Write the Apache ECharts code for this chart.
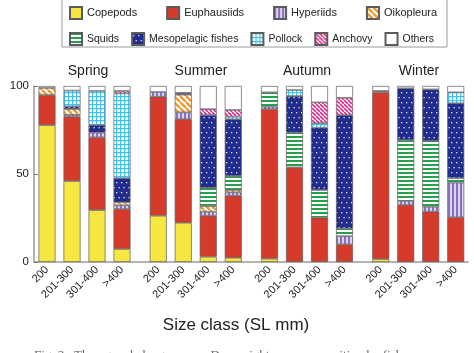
<!DOCTYPE html>
<html>
<head>
<meta charset="utf-8">
<script src="https://cdn.jsdelivr.net/npm/echarts@6/dist/echarts.min.js"></script>
<style>
  html, body { margin: 0; padding: 0; background: #fff; }
  #chart { width: 474px; height: 353px; }
</style>
</head>
<body>
<div id="chart"></div>
<script>
// ===== DATA =====
const seasons = ['Spring', 'Summer', 'Autumn', 'Winter'];
const sizeClasses = ['200', '201-300', '301-400', '>400'];
const preyNames = ['Copepods', 'Euphausiids', 'Hyperiids', 'Oikopleura', 'Squids',
  'Mesopelagic fishes', 'Pollock', 'Anchovy', 'Others'];

// DW% per bar, order: Spring x4, Summer x4, Autumn x4, Winter x4
const copepods    = [77.8, 46.0, 29.5,  7.4,  26.3, 22.3,  3.0,  2.4,   1.9,  0.0,  0.0,  0.0,   1.7,  0.0,  0.0,  0.0];
const euphausiids = [17.1, 36.6, 41.3, 22.7,  67.6, 58.8, 23.3, 35.3,  85.0, 53.8, 25.2, 10.0,  94.7, 32.4, 28.6, 25.4];
const hyperiids   = [ 0.0,  1.0,  2.7,  2.1,   2.7,  3.9,  2.3,  1.9,   1.4,  0.0,  0.0,  4.7,   0.8,  2.3,  2.8, 19.7];
const oikopleura  = [ 4.0,  3.3,  0.0,  1.7,   0.0, 10.1,  3.2,  1.3,   0.0,  0.0,  0.0,  0.0,   0.0,  0.0,  0.0,  0.0];
const squids      = [ 0.0,  0.0,  0.0,  0.0,   0.0,  0.0, 10.4,  8.0,   8.1, 19.7, 15.7,  4.3,   0.0, 34.6, 37.5,  2.5];
const mesopelagic = [ 0.0,  1.5,  4.3, 13.7,   0.0,  1.0, 41.3, 32.2,   0.0, 20.8, 35.4, 64.4,   0.0, 29.4, 29.2, 42.6];
const pollock     = [ 0.0,  9.0, 19.4, 48.2,   0.0,  0.0,  0.0,  1.5,   0.0,  3.4,  2.5,  0.0,   0.0,  0.0,  0.0,  6.2];
const anchovy     = [ 0.0,  0.0,  0.0,  1.4,   0.0,  0.0,  3.4,  3.8,   0.0,  0.0, 11.9,  9.9,   0.0,  0.0,  0.0,  0.0];
const others      = [ 1.1,  2.6,  2.8,  2.8,   3.4,  3.9, 13.1, 13.6,   3.6,  2.3,  9.3,  6.7,   2.8,  1.3,  1.9,  3.6];

const preyValues = [copepods, euphausiids, hyperiids, oikopleura, squids, mesopelagic, pollock, anchovy, others];
const yTicks = [0, 50, 100];

// ===== LAYOUT =====
// one small grid per season so the gap between seasons can differ from the gap between bars
const plotLeft = 34, plotTop = 86, plotBottom = 91, plotRight = 6;
const slot = 25;
const seasonLeft = seasons.map((s, g) => 34.5 + g * 111.25);
const titleX = [88, 201, 307, 419];

// ===== PATTERNS =====
function makePattern(w, h, draw) {
  const c = document.createElement('canvas');
  c.width = w; c.height = h;
  draw(c.getContext('2d'), w, h);
  return { image: c, repeat: 'repeat' };
}
function diag(bg, fg, size, lw) {
  return makePattern(size, size, (ctx, w, h) => {
    ctx.fillStyle = bg; ctx.fillRect(0, 0, w, h);
    ctx.strokeStyle = fg; ctx.lineWidth = lw;
    for (const k of [-size, 0, size]) {
      ctx.beginPath(); ctx.moveTo(k, 0); ctx.lineTo(k + size, size); ctx.stroke();
    }
  });
}

const fills = [
  // copepods: yellow with faint hatch
  makePattern(4, 4, (ctx) => {
    ctx.fillStyle = '#f8e944'; ctx.fillRect(0, 0, 4, 4);
    ctx.fillStyle = '#e9d634'; ctx.fillRect(0, 0, 1, 1); ctx.fillRect(2, 2, 1, 1);
  }),
  '#d63a2a',
  // hyperiids: vertical purple stripes
  makePattern(4, 4, (ctx) => {
    ctx.fillStyle = '#ddd3ee'; ctx.fillRect(0, 0, 4, 4);
    ctx.fillStyle = '#8a70c0'; ctx.fillRect(0, 0, 2, 4);
  }),
  diag('#ffffff', '#ec9a34', 6, 2.4),
  // squids: horizontal green stripes
  makePattern(4, 4, (ctx) => {
    ctx.fillStyle = '#ffffff'; ctx.fillRect(0, 0, 4, 4);
    ctx.fillStyle = '#27a04c'; ctx.fillRect(0, 0, 4, 2);
  }),
  // mesopelagic fishes: navy with white dots
  makePattern(5, 10, (ctx) => {
    ctx.fillStyle = '#222c8c'; ctx.fillRect(0, 0, 5, 10);
    ctx.fillStyle = '#dfe3ff'; ctx.fillRect(1, 2, 1.3, 1.3); ctx.fillRect(3.5, 7, 1.3, 1.3);
  }),
  // pollock: cyan grid
  makePattern(4, 4, (ctx) => {
    ctx.fillStyle = '#ffffff'; ctx.fillRect(0, 0, 4, 4);
    ctx.fillStyle = '#3fc0ef'; ctx.fillRect(0, 0, 4, 1.2); ctx.fillRect(0, 0, 1.2, 4);
  }),
  diag('#ffffff', '#da2f8c', 4, 1.6),
  '#ffffff'
];

// ===== CHART =====
const chart = echarts.init(document.getElementById('chart'));

const grids = [{ left: plotLeft, right: plotRight, top: plotTop, bottom: plotBottom,
  containLabel: false, outerBoundsMode: 'none' }];
const xAxes = [{
  type: 'value', gridIndex: 0, min: 0, max: 1,
  axisLine: { onZero: false, lineStyle: { color: '#9a9a9a', width: 1.5 } },
  axisTick: { show: false }, axisLabel: { show: false }, splitLine: { show: false },
  name: 'Size class (SL mm)', nameLocation: 'middle', nameGap: 55,
  nameTextStyle: { fontSize: 17, color: '#222', padding: [0, 30, 0, 0] }
}];
const yAxes = [{
  type: 'value', gridIndex: 0, min: 0, max: 100, interval: 50,
  axisLine: { show: true, onZero: false, lineStyle: { color: '#9a9a9a', width: 1.5 } },
  axisTick: { show: true, inside: true, length: 4, lineStyle: { color: '#777' } },
  splitLine: { show: false },
  axisLabel: { fontSize: 11.5, color: '#222', margin: 5,
    formatter: (v) => yTicks.includes(v) ? String(v) : '' },
  name: 'DW%', nameLocation: 'middle', nameGap: 19,
  nameTextStyle: { fontSize: 12, color: '#222' }
}];
const series = [];

seasons.forEach((season, g) => {
  grids.push({ left: seasonLeft[g], width: 4 * slot, top: plotTop, bottom: plotBottom,
    containLabel: false, outerBoundsMode: 'none' });
  xAxes.push({
    type: 'category', gridIndex: g + 1, data: sizeClasses,
    axisLine: { show: false }, axisTick: { show: false }, splitLine: { show: false },
    axisLabel: { rotate: 45, fontSize: 11, color: '#222', margin: 6, interval: 0 }
  });
  yAxes.push({ type: 'value', gridIndex: g + 1, min: 0, max: 100, show: false, splitLine: { show: false } });
  preyNames.forEach((name, k) => {
    series.push({
      name,
      type: 'bar',
      stack: season,
      xAxisIndex: g + 1,
      yAxisIndex: g + 1,
      barWidth: 17,
      itemStyle: { color: fills[k], borderColor: '#5b5b5b', borderWidth: 0.7 },
      emphasis: { disabled: true },
      data: preyValues[k].slice(g * 4, g * 4 + 4).map(v => v > 0 ? v : '-')
    });
  });
});

const legendText = { color: '#222', fontFamily: 'Liberation Sans, Arial, sans-serif' };

chart.setOption({
  animation: false,
  textStyle: { fontFamily: 'Liberation Sans, Arial, sans-serif' },
  title: seasons.map((s, g) => ({
    text: s, left: titleX[g], top: 64, textAlign: 'center', padding: 0,
    textStyle: { fontSize: 14, fontWeight: 'normal', color: '#222' }
  })),
  legend: [
    {
      data: preyNames.slice(0, 4), left: 69, top: 6, padding: 0,
      itemWidth: 12, itemHeight: 12, itemGap: 29, icon: 'rect',
      selectedMode: false, textStyle: { ...legendText, fontSize: 11 }
    },
    {
      data: preyNames.slice(4), left: 69, top: 32, padding: 0,
      itemWidth: 12, itemHeight: 12, itemGap: 12, icon: 'rect',
      selectedMode: false, textStyle: { ...legendText, fontSize: 10.5 }
    }
  ],
  graphic: [
    {
      type: 'rect', silent: true,
      shape: { x: 62, y: -1, width: 385, height: 48 },
      style: { fill: 'none', stroke: '#9a9a9a', lineWidth: 1 }
    },
    {
      type: 'text', left: 34, top: 349, silent: true,
      style: { text: 'Fig. 2.  Theragra chalcogramma.  Dry weight prey composition by fish',
        font: '13px "Liberation Serif", serif', fill: '#666' }
    }
  ],
  grid: grids,
  xAxis: xAxes,
  yAxis: yAxes,
  series
});
</script>
</body>
</html>
